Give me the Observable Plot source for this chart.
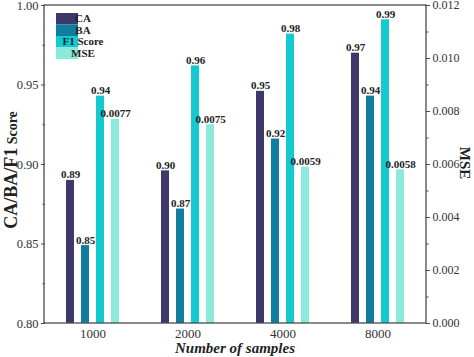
<!DOCTYPE html>
<html>
<head>
<meta charset="utf-8">
<script src="https://cdn.jsdelivr.net/npm/d3@7"></script>
<script src="https://cdn.jsdelivr.net/npm/@observablehq/plot@0.6"></script>
<style>
  html, body { margin: 0; padding: 0; background: #fff; }
  #chart svg { display: block; font-family: 'Liberation Serif', 'Times New Roman', serif !important; }
  #chart svg text, #chart svg tspan { font-family: 'Liberation Serif', 'Times New Roman', serif !important; }
</style>
</head>
<body>
<div id="chart"></div>
<script>
// ---- data ----
const samples = ["1000", "2000", "4000", "8000"];
const series = ["CA", "BA", "F1 Score", "MSE"];
const ca  = [0.890, 0.896, 0.946, 0.970];
const ba  = [0.849, 0.872, 0.916, 0.943];
const f1  = [0.943, 0.962, 0.982, 0.991];
const mse = [0.0077, 0.0075, 0.0059, 0.0058];
const colors = ["#3d3a6b", "#0f7e9e", "#14c9d0", "#8ceadb"];
const leftTicks = [0.80, 0.85, 0.90, 0.95, 1.00];
const leftMinor = [0.825, 0.875, 0.925, 0.975];
const rightTicks = [0, 0.002, 0.004, 0.006, 0.008, 0.010, 0.012];
const rightMinor = [0.001, 0.003, 0.005, 0.007, 0.009, 0.011];

// ---- layout ----
const W = 474, H = 357;
const mL = 44, mR = 48, mT = 5, mB = 34;

// MSE (right axis, 0..0.012) mapped onto left scale (0.80..1.00)
const yMin = leftTicks[0], yMax = leftTicks[leftTicks.length - 1];
const mMax = rightTicks[rightTicks.length - 1];
const toY = m => yMin + m / mMax * (yMax - yMin);
const fromY = y => (y - yMin) / (yMax - yMin) * mMax;

const valuesBySeries = [ca, ba, f1, mse];
const data = [];
samples.forEach((s, i) => {
  series.forEach((k, j) => {
    const v = valuesBySeries[j][i];
    const isMse = k === "MSE";
    data.push({
      samples: s,
      series: k,
      y: isMse ? toY(v) : v,
      label: isMse ? v.toFixed(4) : v.toFixed(2)
    });
  });
});

const axisColor = "#4a4a4a";

const plot = Plot.plot({
  width: W,
  height: H,
  marginLeft: mL,
  marginRight: mR,
  marginTop: mT,
  marginBottom: mB,
  style: "font-family: 'Liberation Serif', 'Times New Roman', serif; font-size: 12px; color: #222; background: #fff;",
  fx: { domain: samples, padding: 0, axis: null },
  x: { domain: series, paddingInner: 0.4375, paddingOuter: 1.2, axis: null },
  y: { domain: [yMin, yMax], axis: null },
  color: { domain: series, range: colors },
  marks: [
    Plot.barY(data, { fx: "samples", x: "series", y1: yMin, y2: "y", fill: "series" }),
    Plot.text(data, {
      fx: "samples", x: "series", y: "y", text: "label",
      dy: -2, lineAnchor: "bottom", fontWeight: "bold", fontSize: 11, fill: "#222"
    }),
    // left axis
    Plot.axisY(leftTicks, {
      anchor: "left", tickSize: 4, tickPadding: 3, fontSize: 12.5,
      stroke: axisColor, fill: "#333", label: null,
      tickFormat: d => d.toFixed(2)
    }),
    Plot.axisY(leftMinor, {
      anchor: "left", tickSize: 2.5, stroke: axisColor, label: null,
      tickFormat: () => ""
    }),
    // right axis (MSE)
    Plot.axisY(rightTicks.map(toY), {
      anchor: "right", tickSize: 4, tickPadding: 3, fontSize: 12,
      stroke: axisColor, fill: "#333", label: null,
      tickFormat: d => fromY(d).toFixed(3)
    }),
    Plot.axisY(rightMinor.map(toY), {
      anchor: "right", tickSize: 2.5, stroke: axisColor, label: null,
      tickFormat: () => ""
    }),
    // group axis
    Plot.axisFx({
      anchor: "bottom", tickSize: 0, tickPadding: 5, fontSize: 13,
      fill: "#333", label: null
    })
  ]
});

document.getElementById("chart").appendChild(plot);

// ---- frame, titles and legend ----
const svg = d3.select(plot);
svg.append("rect")
  .attr("x", mL).attr("y", mT)
  .attr("width", W - mL - mR).attr("height", H - mT - mB)
  .attr("fill", "none").attr("stroke", axisColor).attr("stroke-width", 1.3);

const yt = svg.append("text")
  .attr("transform", `translate(17,170) rotate(-90)`)
  .attr("text-anchor", "middle")
  .style("font-weight", "bold")
  .attr("fill", "#222");
yt.append("tspan").style("font-size", "18px").text("CA/BA/F1");
yt.append("tspan").style("font-size", "14px").text(" Score");

svg.append("text")
  .attr("transform", `translate(460,163) rotate(90)`)
  .attr("text-anchor", "middle")
  .style("font-weight", "bold").style("font-size", "15px")
  .attr("fill", "#222")
  .text("MSE");

svg.append("text")
  .attr("x", (mL + W - mR) / 2).attr("y", 353)
  .attr("text-anchor", "middle")
  .style("font-weight", "bold").style("font-style", "italic")
  .style("font-size", "15px")
  .attr("fill", "#222")
  .text("Number of samples");

const lg = svg.append("g").attr("transform", "translate(56,13)");
series.forEach((k, i) => {
  lg.append("rect").attr("x", 0).attr("y", i * 11.5)
    .attr("width", 22).attr("height", 11.5).attr("fill", colors[i]);
  lg.append("text").attr("x", 27).attr("y", i * 11.5 + 9)
    .style("font-weight", "bold").style("font-size", "11px")
    .attr("fill", "#222")
    .text(k);
});
</script>
</body>
</html>
